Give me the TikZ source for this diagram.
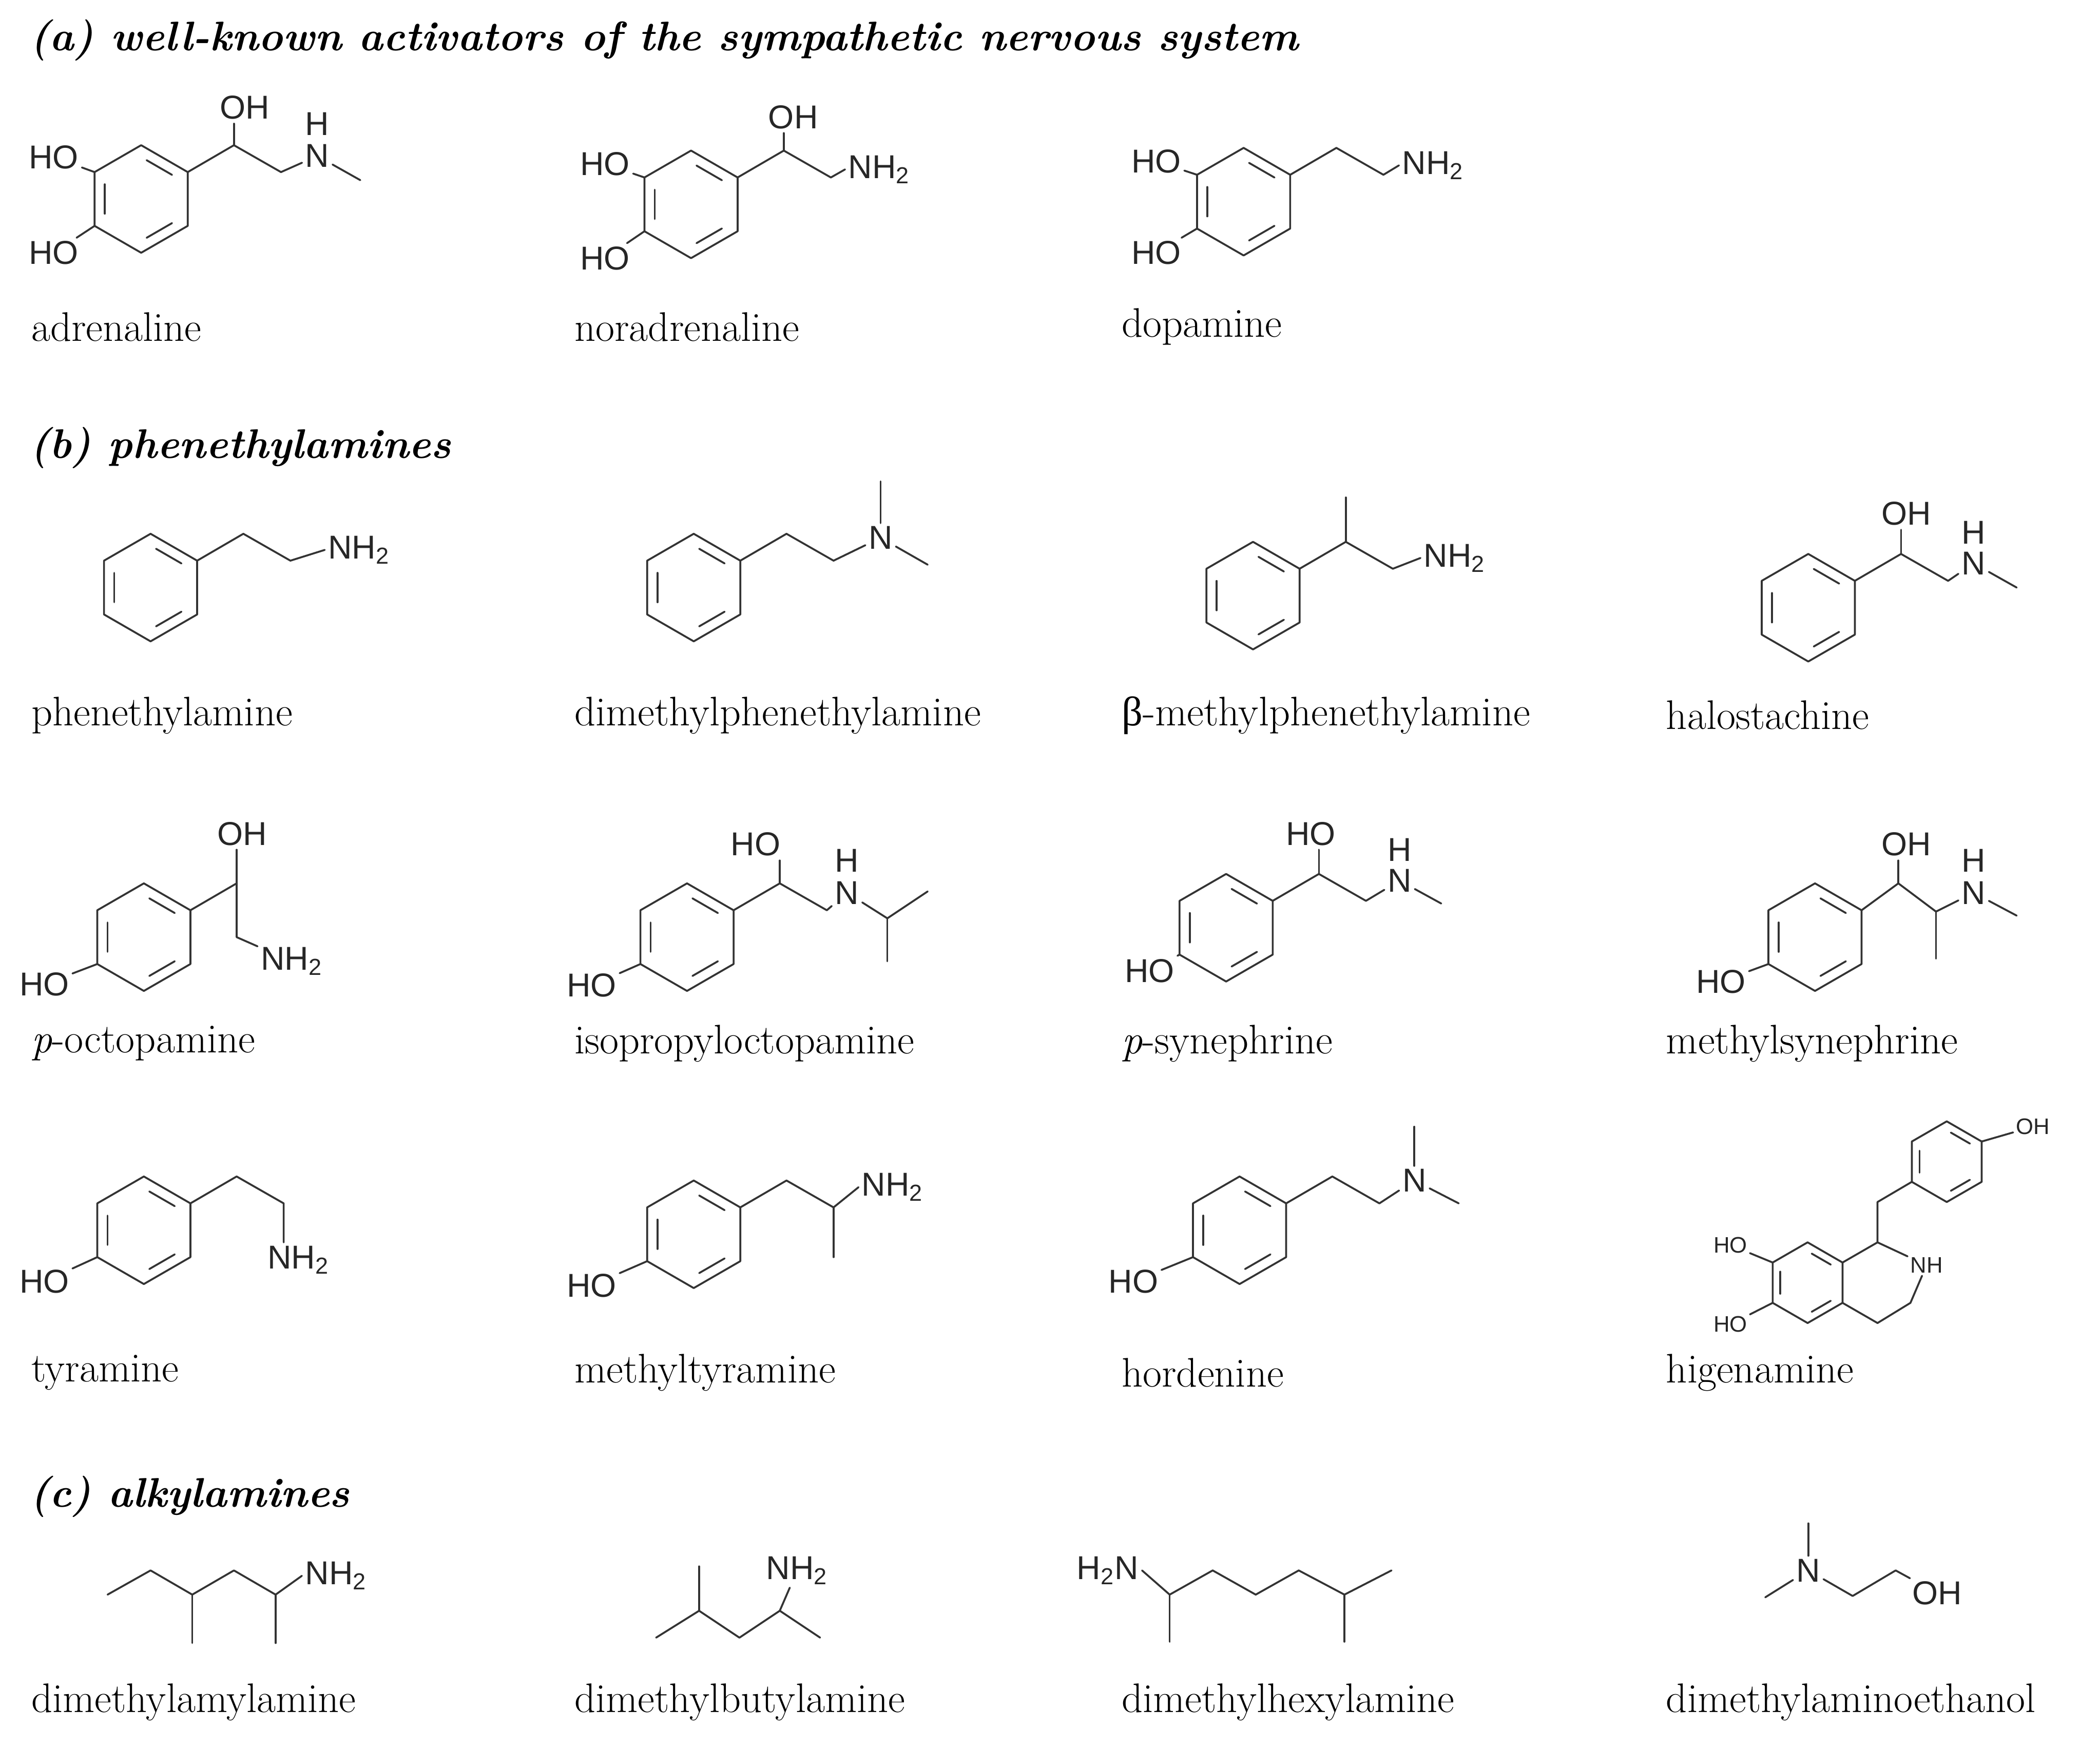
\documentclass[tikz,border=0pt]{standalone}
\usepackage{fontspec}
\newfontfamily\atomfam{Liberation Sans}
\newfontfamily\grkfam{Liberation Serif}
\usetikzlibrary{calc}
\newcommand\af{\fontsize{14}{16}\selectfont\atomfam}
\newcommand\afs{\fontsize{9.5}{11}\selectfont\atomfam}
\newcommand\lf{\fontsize{17.5}{20}\selectfont}
\tikzset{
  bond/.style={line width=0.8pt, draw=black!80, line cap=round, line join=round},
  atom/.style={font=\af, inner sep=1.2pt, text=black!85},
  satom/.style={font=\afs, inner sep=1pt, text=black!85},
  lbl/.style={font=\lf, anchor=west, inner sep=0pt},
  hd/.style={font=\lf\bfseries\itshape, anchor=west, inner sep=0pt}
}
\newcommand\benz[4]{%
\begin{scope}[shift={(#1,#2)}]
\coordinate (#4t) at (-90:#3); \coordinate (#4ur) at (-30:#3);
\coordinate (#4lr) at (30:#3); \coordinate (#4b) at (90:#3);
\coordinate (#4ll) at (150:#3); \coordinate (#4ul) at (210:#3);
\draw[bond] (#4t)--(#4ur)--(#4lr)--(#4b)--(#4ll)--(#4ul)--cycle;
\foreach \a in {-90,150,30}{
 \draw[bond] ($({\a}:{#3*0.78})!0.15!({\a+60}:{#3*0.78})$) -- ($({\a}:{#3*0.78})!0.85!({\a+60}:{#3*0.78})$);}
\end{scope}}
\begin{document}
\begin{tikzpicture}[x=0.02cm,y=-0.02cm]
\useasboundingbox (0,0) rectangle (1562,1300);
% headings
\node[hd] (ha) at (22,30) {(a) well-known activators of the sympathetic nervous system};
\node[hd] (hb) at (22,333) {(b) phenethylamines};
\node[hd] (hc) at (22,1113) {(c) alkylamines};
% ---------- adrenaline
\benz{105}{148}{40}{A}
\node[atom] (Aho1) at (40,117) {HO}; \node[atom] (Aho2) at (40,188) {HO};
\draw[bond] (Aul)--(Aho1); \draw[bond] (All)--(Aho2);
\node[atom] (Aoh) at (182,80) {OH};
\node[atom] (An) at (236,116) {N}; \node[atom] (Ah) at (236,92) {H};
\draw[bond] (Aur)--(174,108)--(209,128)--(An); \draw[bond] (An)--(268,134);
\draw[bond] (174,108)--(174,92);
\node[lbl] (La) at (23,243) {adrenaline};
% ---------- noradrenaline
\benz{514}{152}{40}{B}
\node[atom] (Bho1) at (450,122) {HO}; \node[atom] (Bho2) at (450,192) {HO};
\draw[bond] (Bul)--(Bho1); \draw[bond] (Bll)--(Bho2);
\node[atom] (Boh) at (590,87) {OH};
\node[atom] (Bn) at (654,126) {NH\textsubscript{2}};
\draw[bond] (Bur)--(583,112)--(618,132)--(Bn.west);
\draw[bond] (583,112)--(583,99);
\node[lbl] (Lb) at (427,243) {noradrenaline};
% ---------- dopamine
\benz{925}{150}{40}{C}
\node[atom] (Cho1) at (860,120) {HO}; \node[atom] (Cho2) at (860,188) {HO};
\draw[bond] (Cul)--(Cho1); \draw[bond] (Cll)--(Cho2);
\node[atom] (Cn) at (1066,123) {NH\textsubscript{2}};
\draw[bond] (Cur)--(994,110)--(1029,130)--(Cn.west);
\node[lbl] (Lc) at (834,243) {dopamine};
% ---------- phenethylamine
\benz{112}{437}{40}{D}
\node[atom] (Dn) at (267,409) {NH\textsubscript{2}};
\draw[bond] (Dur)--(181,397)--(216,417)--(Dn.west);
\node[lbl] (Ld) at (23,532) {phenethylamine};
% ---------- dimethylphenethylamine
\benz{516}{437}{40}{E}
\node[atom] (En) at (655,400) {N};
\draw[bond] (Eur)--(585,397)--(620,417)--(En);
\draw[bond] (En)--(655,358); \draw[bond] (En)--(690,420);
\node[lbl] (Le) at (427,532) {dimethylphenethylamine};
% ---------- beta-methylphenethylamine
\benz{932}{443}{40}{F}
\node[atom] (Fn) at (1082,415) {NH\textsubscript{2}};
\draw[bond] (Fur)--(1001,403)--(1036,423)--(Fn.west);
\draw[bond] (1001,403)--(1001,370);
\node[lbl] (Lf) at (834,532) {{\grkfam β}-methylphenethylamine};
% ---------- halostachine
\benz{1345}{452}{40}{G}
\node[atom] (Goh) at (1418,382) {OH};
\node[atom] (Gn) at (1468,419) {N}; \node[atom] (Gh) at (1468,396) {H};
\draw[bond] (Gur)--(1414,412)--(1449,432)--(Gn); \draw[bond] (Gn)--(1500,437);
\draw[bond] (1414,412)--(1414,394);
\node[lbl] (Lg) at (1239,532) {halostachine};
% ---------- p-octopamine
\benz{107}{697}{40}{H}
\node[atom] (Hho) at (33,732) {HO}; \draw[bond] (Hll)--(Hho);
\node[atom] (Hoh) at (180,620) {OH};
\node[atom] (Hn) at (217,715) {NH\textsubscript{2}};
\draw[bond] (Hur)--(176,657)--(176,697)--(Hn);
\draw[bond] (176,657)--(176,632);
\node[lbl] (Lh) at (23,776) {\textit{p}-octopamine};
% ---------- isopropyloctopamine
\benz{511}{697}{40}{I}
\node[atom] (Iho) at (440,733) {HO}; \draw[bond] (Ill)--(Iho);
\node[atom] (Ioh) at (562,628) {HO};
\node[atom] (In) at (630,664) {N}; \node[atom] (Ih) at (630,640) {H};
\draw[bond] (Iur)--(580,657)--(615,677)--(In);
\draw[bond] (580,657)--(580,640);
\draw[bond] (In)--(660,683)--(690,663); \draw[bond] (660,683)--(660,715);
\node[lbl] (Li) at (427,776) {isopropyloctopamine};
% ---------- p-synephrine
\benz{912}{690}{40}{J}
\node[atom] (Jho) at (855,722) {HO}; \draw[bond] (Jll)--(Jho);
\node[atom] (Joh) at (975,620) {HO};
\node[atom] (Jn) at (1041,655) {N}; \node[atom] (Jh) at (1041,632) {H};
\draw[bond] (Jur)--(981,650)--(1016,670)--(Jn); \draw[bond] (Jn)--(1072,672);
\draw[bond] (981,650)--(981,632);
\node[lbl] (Lj) at (834,776) {\textit{p}-synephrine};
% ---------- methylsynephrine
\benz{1350}{697}{40}{K}
\node[atom] (Kho) at (1280,730) {HO}; \draw[bond] (Kll)--(Kho);
\node[atom] (Koh) at (1418,628) {OH};
\node[atom] (Kn) at (1468,664) {N}; \node[atom] (Kh) at (1468,640) {H};
\draw[bond] (Kur)--(1412,657)--(1440,678)--(Kn); \draw[bond] (Kn)--(1500,681);
\draw[bond] (1412,657)--(1412,640); \draw[bond] (1440,678)--(1440,713);
\node[lbl] (Lk) at (1239,776) {methylsynephrine};
% ---------- tyramine
\benz{107}{915}{40}{M}
\node[atom] (Mho) at (33,953) {HO}; \draw[bond] (Mll)--(Mho);
\node[atom] (Mn) at (222,937) {NH\textsubscript{2}};
\draw[bond] (Mur)--(176,875)--(211,895)--(211,924);
\node[lbl] (Lm) at (23,1021) {tyramine};
% ---------- methyltyramine
\benz{516}{918}{40}{N}
\node[atom] (Nho) at (440,956) {HO}; \draw[bond] (Nll)--(Nho);
\node[atom] (Nn) at (664,883) {NH\textsubscript{2}};
\draw[bond] (Nur)--(585,878)--(620,898)--(Nn.west);
\draw[bond] (620,898)--(620,935);
\node[lbl] (Ln) at (427,1021) {methyltyramine};
% ---------- hordenine
\benz{922}{915}{40}{O}
\node[atom] (Oho) at (843,953) {HO}; \draw[bond] (Oll)--(Oho);
\node[atom] (On) at (1052,878) {N};
\draw[bond] (Our)--(991,875)--(1026,895)--(On);
\draw[bond] (On)--(1052,838); \draw[bond] (On)--(1085,895);
\node[lbl] (Lo) at (834,1021) {hordenine};
% ---------- higenamine
\benz{1448}{864}{30}{P}
\benz{1344.5}{954}{30}{Q}
\node[satom] (Poh) at (1512,838) {OH}; \draw[bond] (Pur)--(Poh);
\node[satom] (Qho1) at (1287,926) {HO}; \draw[bond] (Qul)--(Qho1);
\node[satom] (Qho2) at (1287,985) {HO}; \draw[bond] (Qll)--(Qho2);
\node[satom] (Qnh) at (1433,941) {NH};
\draw[bond] (Pll)--(1396.5,894)--(1396.5,924)--(Qur);
\draw[bond] (1396.5,924)--(Qnh);
\draw[bond] (Qnh)--(1421,969)--(1396.5,984)--(Qlr);
\node[lbl] (Lp) at (1239,1021) {higenamine};
% ---------- dimethylamylamine
\node[atom] (Rn) at (250,1172) {NH\textsubscript{2}};
\draw[bond] (80,1186)--(112,1168)--(143,1186)--(174,1168)--(205,1186)--(Rn.west);
\draw[bond] (143,1186)--(143,1222); \draw[bond] (205,1186)--(205,1222);
\node[lbl] (Lr) at (23,1266) {dimethylamylamine};
% ---------- dimethylbutylamine
\node[atom] (Sn) at (593,1168) {NH\textsubscript{2}};
\draw[bond] (488,1218)--(520,1198)--(550,1218)--(580,1198)--(610,1218);
\draw[bond] (520,1198)--(520,1165); \draw[bond] (580,1198)--(Sn);
\node[lbl] (Ls) at (427,1266) {dimethylbutylamine};
% ---------- dimethylhexylamine
\node[atom] (Tn) at (824,1168) {H\textsubscript{2}N};
\draw[bond] (Tn.east)--(870,1186)--(902,1168)--(934,1186)--(966,1168)--(1000,1186)--(1035,1168);
\draw[bond] (870,1186)--(870,1221); \draw[bond] (1000,1186)--(1000,1221);
\node[lbl] (Lt) at (834,1266) {dimethylhexylamine};
% ---------- dimethylaminoethanol
\node[atom] (Un) at (1345,1168) {N};
\node[atom] (Uoh) at (1441,1185) {OH};
\draw[bond] (Un)--(1345,1133); \draw[bond] (Un)--(1313,1188);
\draw[bond] (Un)--(1378,1187)--(1410,1168)--(Uoh);
\node[lbl] (Lu) at (1239,1266) {dimethylaminoethanol};
\end{tikzpicture}
\end{document}
